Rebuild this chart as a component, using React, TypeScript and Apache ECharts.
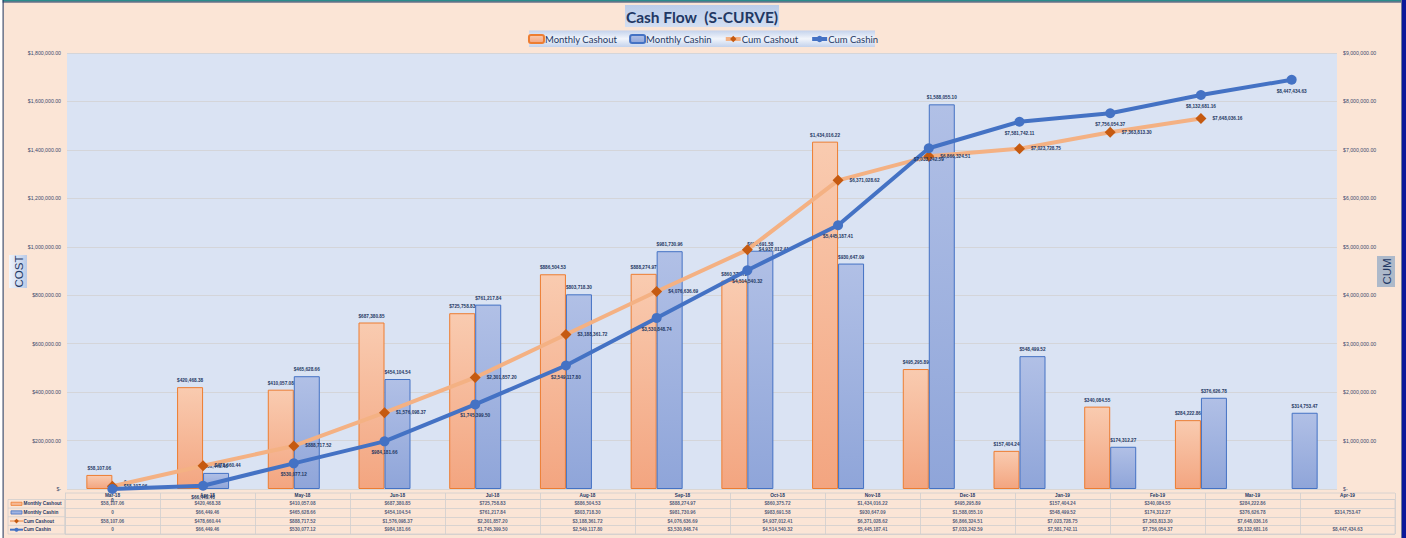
import React, { useEffect, useRef } from "react";
import * as echarts from "echarts";

// Months of the programme
const categories = [
  "Mar-18", "Apr-18", "May-18", "Jun-18", "Jul-18", "Aug-18", "Sep-18",
  "Oct-18", "Nov-18", "Dec-18", "Jan-19", "Feb-19", "Mar-19", "Apr-19",
];

// Monthly amounts
const monthlyCashout: (number | null)[] = [
  58107.06, 420468.38, 410057.08, 687380.85, 725758.83, 886504.53, 888274.97,
  860375.72, 1434016.22, 495295.89, 157404.24, 340084.55, 284222.86, null,
];
const monthlyCashin: (number | null)[] = [
  0, 66449.46, 465628.66, 454104.54, 761217.84, 803718.3, 981730.96,
  983691.58, 930647.09, 1588055.1, 548499.52, 174312.27, 376626.78, 314753.47,
];

// Cumulative amounts
const cumCashout: (number | null)[] = [
  58107.06, 478660.44, 888717.52, 1576098.37, 2301857.2, 3188361.72, 4076636.69,
  4937012.41, 6371028.62, 6866324.51, 7023728.75, 7363813.3, 7648036.16, null,
];
const cumCashin: (number | null)[] = [
  0, 66449.46, 530077.12, 984181.66, 1745399.5, 2549117.8, 3530848.74,
  4514540.32, 5445187.41, 7033242.59, 7581742.11, 7756054.37, 8132681.16, 8447434.63,
];

const seriesNames = ["Monthly Cashout", "Monthly Cashin", "Cum Cashout", "Cum Cashin"];

const NAVY = "#1F3864";
const TABLE_LINE = "#D0CECE";
const TABLE_LEFT = 65;
const TABLE_RIGHT = 1395;
const TABLE_TOP = 499.5;
const ROW_H = 8.625;
const HEADER_TOP = 493;
const KEY_LEFT = 8;

const money = (v: number | null | undefined) => {
  if (v === null || v === undefined) return "";
  if (v === 0) return "0";
  return "$" + v.toLocaleString("en-US", { minimumFractionDigits: 2, maximumFractionDigits: 2 });
};
const axisMoney = (v: number) =>
  v === 0 ? "$-" : "$" + v.toLocaleString("en-US", { minimumFractionDigits: 2, maximumFractionDigits: 2 });

const orangeFill = () =>
  new echarts.graphic.LinearGradient(0, 0, 0, 1, [
    { offset: 0, color: "#F9CBB0" },
    { offset: 1, color: "#F3A580" },
  ]);
const blueFill = () =>
  new echarts.graphic.LinearGradient(0, 0, 0, 1, [
    { offset: 0, color: "#B1C0E6" },
    { offset: 1, color: "#8FA5D9" },
  ]);

const labelBase = {
  show: true,
  fontSize: 4.7,
  fontWeight: "bold" as const,
  color: NAVY,
  fontFamily: "Liberation Sans",
};

function tableSeries(values: (number | null)[], row: number) {
  return {
    name: "table-" + row,
    type: "scatter",
    xAxisIndex: 1,
    yAxisIndex: 2,
    silent: true,
    symbolSize: 1,
    itemStyle: { color: "rgba(0,0,0,0)" },
    data: values.map((_, i) => [i, row + 0.5]),
    label: {
      ...labelBase,
      position: "inside",
      formatter: (p: any) => money(values[p.dataIndex]),
    },
    z: 5,
  };
}

function keyGraphics() {
  const els: any[] = [];
  const h = ROW_H * 4;
  els.push({
    type: "rect",
    shape: { x: KEY_LEFT, y: TABLE_TOP, width: TABLE_LEFT - KEY_LEFT, height: h },
    style: { fill: "none", stroke: TABLE_LINE, lineWidth: 0.8 },
  });
  for (let r = 1; r < 4; r++) {
    els.push({
      type: "line",
      shape: { x1: KEY_LEFT, y1: TABLE_TOP + r * ROW_H, x2: TABLE_LEFT, y2: TABLE_TOP + r * ROW_H },
      style: { stroke: TABLE_LINE, lineWidth: 0.8 },
    });
  }
  seriesNames.forEach((name, r) => {
    const cy = TABLE_TOP + (r + 0.5) * ROW_H;
    if (r === 0 || r === 1) {
      els.push({
        type: "rect",
        shape: { x: 11, y: cy - 1.6, width: 11, height: 3.2 },
        style: {
          fill: r === 0 ? "#F6B894" : "#A1B3E0",
          stroke: r === 0 ? "#ED7D31" : "#4472C4",
          lineWidth: 0.8,
        },
      });
    } else if (r === 2) {
      els.push({
        type: "line",
        shape: { x1: 10, y1: cy, x2: 23, y2: cy },
        style: { stroke: "#F4B183", lineWidth: 2 },
      });
      els.push({
        type: "polygon",
        shape: { points: [[16.5, cy - 2.4], [18.9, cy], [16.5, cy + 2.4], [14.1, cy]] },
        style: { fill: "#C55A11" },
      });
    } else {
      els.push({
        type: "line",
        shape: { x1: 10, y1: cy, x2: 23, y2: cy },
        style: { stroke: "#4472C4", lineWidth: 2 },
      });
      els.push({
        type: "circle",
        shape: { cx: 16.5, cy, r: 2 },
        style: { fill: "#4472C4" },
      });
    }
    els.push({
      type: "text",
      x: 23.5,
      y: cy,
      style: {
        text: name,
        fontSize: 4.7,
        fontWeight: "bold",
        fontFamily: "Liberation Sans",
        fill: NAVY,
        verticalAlign: "middle",
        align: "left",
      },
    });
  });
  return els;
}

export default function App() {
  const ref = useRef<HTMLDivElement>(null);

  useEffect(() => {
    if (!ref.current) return;
    const chart = echarts.init(ref.current, undefined, { renderer: "svg" });

    const option: any = {
      animation: false,
      backgroundColor: "#FBE5D6",
      textStyle: { fontFamily: "Liberation Sans" },
      legend: {
        data: seriesNames,
        top: 34,
        left: "center",
        itemWidth: 15,
        itemHeight: 8,
        itemGap: 12,
        padding: 0,
        lineStyle: { width: 4 },
        textStyle: { color: NAVY, fontSize: 9.5, fontFamily: "Lato", padding: [0, 0, 0, -4] },
      },
      grid: [
        {
          left: 67, right: 69, top: 53, bottom: 49,
          show: true, backgroundColor: "#DAE3F3", borderWidth: 0,
        },
        {
          left: TABLE_LEFT, right: 1406 - TABLE_RIGHT, top: TABLE_TOP, height: ROW_H * 4,
          show: true, backgroundColor: "transparent", borderColor: TABLE_LINE, borderWidth: 0.8,
        },
      ],
      xAxis: [
        {
          type: "category", data: categories, gridIndex: 0,
          axisLine: { show: false }, axisTick: { show: false }, axisLabel: { show: false },
        },
        {
          type: "category", data: categories, gridIndex: 1, position: "top",
          axisLine: { show: true, lineStyle: { color: TABLE_LINE, width: 0.8 } },
          axisTick: { show: true, length: 6.5, interval: 0, lineStyle: { color: TABLE_LINE, width: 0.8 } },
          axisLabel: { interval: 0, fontSize: 4.7, fontWeight: "bold", color: NAVY, margin: 1.6 },
          splitLine: { show: true, interval: 0, lineStyle: { color: TABLE_LINE, width: 0.8 } },
        },
      ],
      yAxis: [
        {
          type: "value", gridIndex: 0, min: 0, max: 1800000, interval: 200000,
          axisLine: { show: false }, axisTick: { show: false },
          axisLabel: { formatter: axisMoney, fontSize: 5.2, color: "#3B4A6E", margin: 6 },
          splitLine: { lineStyle: { color: "#D2D2D2", width: 0.8 } },
        },
        {
          type: "value", gridIndex: 0, min: 0, max: 9000000, interval: 1000000, position: "right",
          axisLine: { show: false }, axisTick: { show: false },
          axisLabel: { formatter: axisMoney, fontSize: 5.2, color: "#3B4A6E", margin: 6 },
          splitLine: { show: false },
        },
        {
          type: "value", gridIndex: 1, min: 0, max: 4, interval: 1, inverse: true,
          axisLine: { show: false }, axisTick: { show: false }, axisLabel: { show: false },
          splitLine: { show: true, lineStyle: { color: TABLE_LINE, width: 0.8 } },
        },
      ],
      series: [
        {
          name: "Monthly Cashout",
          type: "bar",
          xAxisIndex: 0, yAxisIndex: 0,
          barWidth: 26, barGap: "0%",
          data: monthlyCashout,
          itemStyle: { color: orangeFill(), borderColor: "#ED7D31", borderWidth: 1 },
          label: { ...labelBase, position: "top", distance: 4, formatter: (p: any) => money(p.value) },
        },
        {
          name: "Monthly Cashin",
          type: "bar",
          xAxisIndex: 0, yAxisIndex: 0,
          barWidth: 26, barGap: "0%",
          data: monthlyCashin,
          itemStyle: { color: blueFill(), borderColor: "#4472C4", borderWidth: 1 },
          label: { ...labelBase, position: "top", distance: 4, formatter: (p: any) => money(p.value) },
        },
        {
          name: "Cum Cashout",
          type: "line",
          xAxisIndex: 0, yAxisIndex: 1,
          data: cumCashout,
          symbol: "diamond", symbolSize: 11,
          lineStyle: { color: "#F4B183", width: 4 },
          itemStyle: { color: "#C55A11" },
          label: { ...labelBase, position: "right", distance: 6, formatter: (p: any) => money(p.value) },
          z: 3,
        },
        {
          name: "Cum Cashin",
          type: "line",
          xAxisIndex: 0, yAxisIndex: 1,
          data: cumCashin,
          symbol: "circle", symbolSize: 10,
          lineStyle: { color: "#4472C4", width: 4 },
          itemStyle: { color: "#4472C4" },
          label: { ...labelBase, position: "bottom", distance: 4, formatter: (p: any) => money(p.value) },
          z: 4,
        },
        tableSeries(monthlyCashout, 0),
        tableSeries(monthlyCashin, 1),
        tableSeries(cumCashout, 2),
        tableSeries(cumCashin, 3),
      ],
      graphic: [
        // frame
        { type: "rect", shape: { x: 0, y: 0, width: 1403, height: 1.6 }, style: { fill: "#2A8C8C" }, z: 10 },
        { type: "rect", shape: { x: 0, y: 1.6, width: 1403, height: 0.9 }, style: { fill: NAVY }, z: 10 },
        { type: "rect", shape: { x: 0, y: 0, width: 2.6, height: 538 }, style: { fill: "#FFFFFF" }, z: 10 },
        { type: "rect", shape: { x: 2.6, y: 0, width: 1, height: 538 }, style: { fill: NAVY }, z: 10 },
        { type: "rect", shape: { x: 1401, y: 0, width: 1, height: 538 }, style: { fill: "#6F7A99" }, z: 10 },
        { type: "rect", shape: { x: 1402, y: 0, width: 4, height: 538 }, style: { fill: "#0B1899" }, z: 10 },
        // title
        {
          type: "rect",
          shape: { x: 625, y: 5, width: 154, height: 22 },
          style: {
            fill: new echarts.graphic.LinearGradient(0, 0, 0, 1, [
              { offset: 0, color: "#BCCDEA" },
              { offset: 1, color: "#D3DEF1" },
            ]),
          },
        },
        {
          type: "text",
          x: 702, y: 16.5,
          style: {
            text: "Cash Flow  (S-CURVE)",
            fontSize: 15.5, fontWeight: "bold", fontFamily: "Lato",
            fill: NAVY, align: "center", verticalAlign: "middle",
          },
        },
        // legend box
        {
          type: "rect",
          shape: { x: 529, y: 30.5, width: 346, height: 16.5 },
          style: {
            fill: new echarts.graphic.LinearGradient(0, 0, 0, 1, [
              { offset: 0, color: "#C3D2EC" },
              { offset: 0.5, color: "#F2F5FB" },
              { offset: 1, color: "#C3D2EC" },
            ]),
          },
        },
        // COST axis title
        {
          type: "rect",
          shape: { x: 9, y: 255, width: 18, height: 33 },
          style: {
            fill: new echarts.graphic.LinearGradient(0, 0, 1, 0, [
              { offset: 0, color: "#F0F4FB" },
              { offset: 1, color: "#B9CAE8" },
            ]),
          },
        },
        {
          type: "text",
          x: 18.5, y: 271.5, rotation: Math.PI / 2,
          style: {
            text: "COST", fontSize: 11.5, fontFamily: "Liberation Sans",
            fill: NAVY, align: "center", verticalAlign: "middle",
          },
        },
        // CUM axis title
        {
          type: "rect",
          shape: { x: 1377, y: 256, width: 18, height: 31 },
          style: { fill: "#ADB9CA" },
        },
        {
          type: "text",
          x: 1386.5, y: 271.5, rotation: Math.PI / 2,
          style: {
            text: "CUM", fontSize: 11.5, fontFamily: "Liberation Sans",
            fill: NAVY, align: "center", verticalAlign: "middle",
          },
        },
        // data table header top line
        {
          type: "line",
          shape: { x1: TABLE_LEFT, y1: HEADER_TOP, x2: TABLE_RIGHT, y2: HEADER_TOP },
          style: { stroke: TABLE_LINE, lineWidth: 0.8 },
        },
        ...keyGraphics(),
      ],
    };

    chart.setOption(option);
    return () => chart.dispose();
  }, []);

  return (
    <div
      ref={ref}
      style={{ position: "fixed", left: 0, top: 0, width: 1406, height: 538 }}
    />
  );
}
